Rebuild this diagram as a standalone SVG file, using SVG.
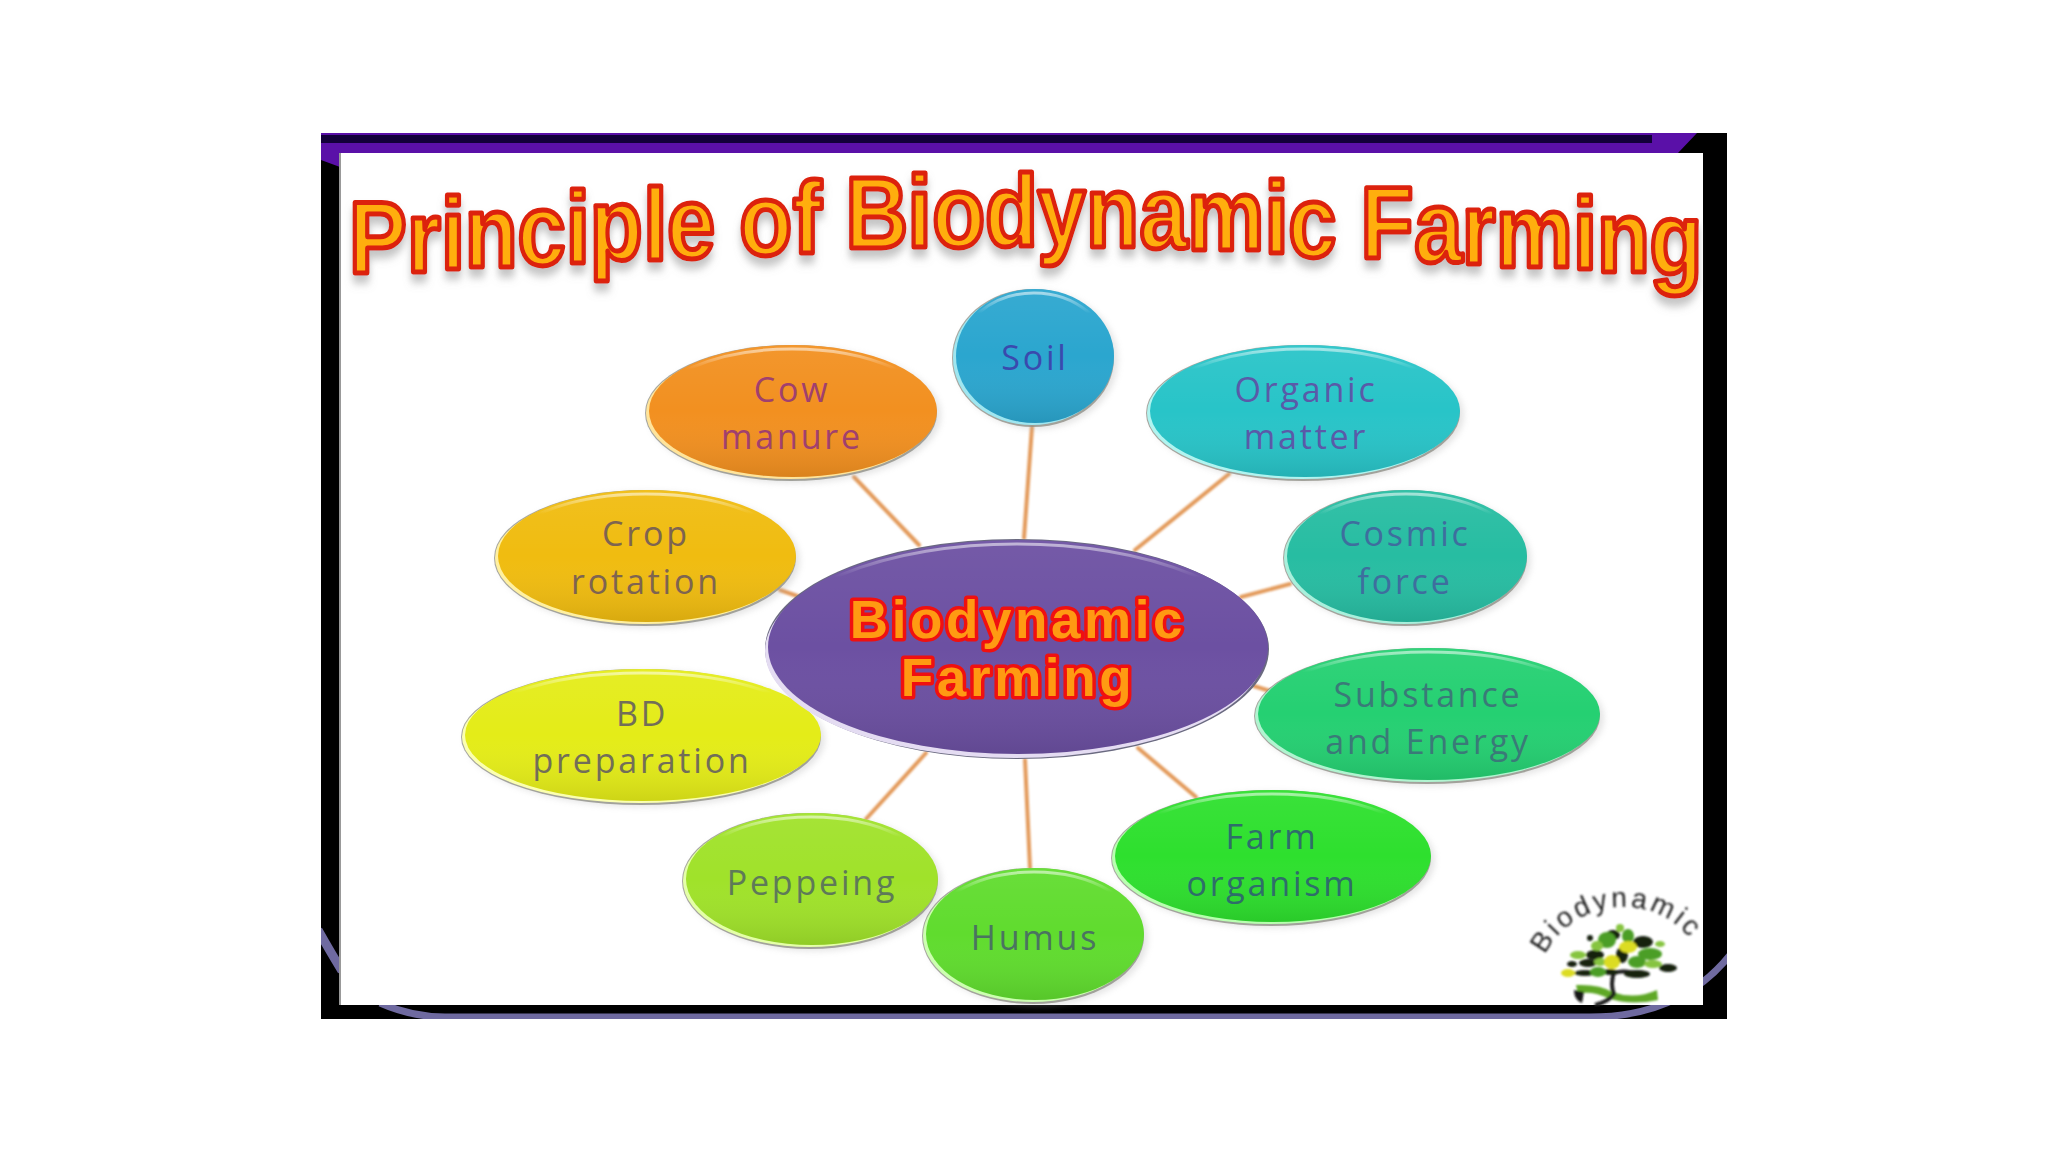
<svg xmlns="http://www.w3.org/2000/svg" xmlns:xlink="http://www.w3.org/1999/xlink" width="2048" height="1152" viewBox="0 0 2048 1152">
<style>
.label{font-family:"Open Sans","Liberation Sans",sans-serif;font-size:34px;text-anchor:middle;letter-spacing:2.8px;fill:#6B4AA0}
.shade{fill:url(#shade)}
.rim{fill:none;stroke:url(#rimg);stroke-width:3}
.outline{fill:#8A8A80;opacity:.75}
.shadow{fill:#A8A8A8;opacity:.3;filter:url(#soft)}
.conn line{stroke:#E39A5A;stroke-width:4;stroke-linecap:round}
.title{font-family:"Liberation Sans",Arial,sans-serif;font-weight:700;font-size:102px;fill:#FFAE0C;stroke:#DC2010;stroke-width:5;stroke-linejoin:round;filter:url(#drop)}
.centre{font-family:"Liberation Sans",Arial,sans-serif;font-weight:700;font-size:53px;text-anchor:middle;letter-spacing:3.6px;fill:#FF9A12;stroke:#F01010;stroke-width:7;stroke-linejoin:round;paint-order:stroke}
.logo{font-family:"Liberation Sans",Arial,sans-serif;font-size:28px;fill:#222;letter-spacing:3px}
.dk{fill:#14200E}.gr{fill:#4C9E26}.lg{fill:#86C440}.ye{fill:#DCDC22}
</style>
<defs>
<linearGradient id="shade" x1="0" y1="0" x2="0" y2="1"><stop offset="0" stop-color="#fff" stop-opacity=".06"/><stop offset=".5" stop-color="#fff" stop-opacity="0"/><stop offset="1" stop-color="#000" stop-opacity=".1"/></linearGradient>
<linearGradient id="rimg" x1="0" y1="0" x2="0" y2="1"><stop offset="0" stop-color="#fff" stop-opacity=".55"/><stop offset=".16" stop-color="#fff" stop-opacity="0"/><stop offset="1" stop-color="#fff" stop-opacity="0"/></linearGradient>
<filter id="soft" x="-10%" y="-10%" width="120%" height="120%"><feGaussianBlur stdDeviation="3"/></filter>
<filter id="drop" x="-5%" y="-20%" width="110%" height="150%"><feGaussianBlur stdDeviation=".7" in="SourceGraphic" result="b"/><feDropShadow in="b" dx="0" dy="8" stdDeviation="4.5" flood-color="#888" flood-opacity=".5"/></filter>
<filter id="b1" x="-5%" y="-5%" width="110%" height="110%"><feGaussianBlur stdDeviation=".8"/></filter>
<filter id="b2" x="-20%" y="-20%" width="140%" height="140%"><feGaussianBlur stdDeviation="1.1"/></filter>
<clipPath id="fc"><rect x="321" y="133" width="1406" height="886"/></clipPath>
<path id="logoArc" d="M1545 955 C1575 893 1670 888 1702 958"/>
</defs>
<rect width="2048" height="1152" fill="#fff"/>
<g id="frame">
<rect x="321" y="133" width="1406" height="886" fill="#000"/>
<path d="M321 133H1697L1678 153H340V167L321 160Z" fill="#5A10A8"/>
<rect x="321" y="135" width="1331" height="8" fill="#12003A"/>
<g clip-path="url(#fc)" fill="none" stroke="#6F6AA0">
<path d="M318 930 Q331 953 342 971" stroke-width="9"/>
<path d="M380 1003 Q412 1017 445 1017 H1590 Q1680 1017 1730 955" stroke-width="7"/>
</g>
<rect x="340" y="153" width="1363" height="852" fill="#fff"/>
<rect x="339" y="153" width="2" height="852" fill="#999"/>
</g>
<text id="title" class="title" transform="translate(4 0) scale(.85 1)" x="406 474 514 542 604 661 689 752 780 837 865 928 961 990 1063 1092 1154 1216 1273 1336 1392 1483 1511 1568 1596 1659 1715 1755 1846 1874 1936" y="273 272 269 267 265 263 260 260 258 258 255 253 250 248 247 247 246 245 247 248 250 253 257 258 258 262 264 267 269 272 275">Principle of Biodynamic Farming</text>
<g id="connectors" class="conn" filter="url(#b1)">
<line x1="854" y1="477" x2="919" y2="545"/>
<line x1="1032" y1="427" x2="1024" y2="538"/>
<line x1="1229" y1="474" x2="1135" y2="550"/>
<line x1="780" y1="590" x2="800" y2="597"/>
<line x1="1290" y1="584" x2="1241" y2="597"/>
<line x1="1254" y1="686" x2="1273" y2="692"/>
<line x1="1138" y1="748" x2="1196" y2="797"/>
<line x1="1025" y1="760" x2="1030" y2="868"/>
<line x1="926" y1="753" x2="866" y2="819"/>
</g>
<g id="soil"><ellipse class="shadow" cx="1037" cy="360" rx="81" ry="69"/><ellipse class="outline" cx="1033" cy="358" rx="81" ry="69"/><ellipse cx="1032" cy="358" rx="79" ry="67" fill="#9FE6F0"/><ellipse cx="1035" cy="356" rx="79" ry="67" fill="#2BA6CF"/><ellipse class="shade" cx="1035" cy="356" rx="79" ry="67"/><ellipse class="rim" cx="1034" cy="357" rx="76" ry="64"/><text class="label" x="1035" y="370" style="fill:#3A4AAE">Soil</text></g>
<g id="cow-manure"><ellipse class="shadow" cx="795" cy="415" rx="146" ry="68"/><ellipse class="outline" cx="791" cy="413" rx="146" ry="68"/><ellipse cx="790" cy="413" rx="144" ry="66" fill="#FFE49A"/><ellipse cx="793" cy="411" rx="144" ry="66" fill="#F29020"/><ellipse class="shade" cx="793" cy="411" rx="144" ry="66"/><ellipse class="rim" cx="792" cy="412" rx="141" ry="63"/><text class="label" x="792" y="402" style="fill:#A0406E">Cow</text><text class="label" x="792" y="449" style="fill:#A0406E">manure</text></g>
<g id="organic-matter"><ellipse class="shadow" cx="1307" cy="415" rx="157" ry="68"/><ellipse class="outline" cx="1303" cy="413" rx="157" ry="68"/><ellipse cx="1302" cy="413" rx="155" ry="66" fill="#B0F4F0"/><ellipse cx="1305" cy="411" rx="155" ry="66" fill="#28C4C8"/><ellipse class="shade" cx="1305" cy="411" rx="155" ry="66"/><ellipse class="rim" cx="1304" cy="412" rx="152" ry="63"/><text class="label" x="1306" y="402" style="fill:#5A5AA8">Organic</text><text class="label" x="1306" y="449" style="fill:#5A5AA8">matter</text></g>
<g id="crop-rotation"><ellipse class="shadow" cx="649" cy="560" rx="151" ry="68"/><ellipse class="outline" cx="645" cy="558" rx="151" ry="68"/><ellipse cx="644" cy="558" rx="149" ry="66" fill="#FFF0A0"/><ellipse cx="647" cy="556" rx="149" ry="66" fill="#F0BC10"/><ellipse class="shade" cx="647" cy="556" rx="149" ry="66"/><ellipse class="rim" cx="646" cy="557" rx="146" ry="63"/><text class="label" x="646" y="546" style="fill:#7E6450">Crop</text><text class="label" x="646" y="594" style="fill:#7E6450">rotation</text></g>
<g id="cosmic-force"><ellipse class="shadow" cx="1409" cy="560" rx="122" ry="68"/><ellipse class="outline" cx="1405" cy="558" rx="122" ry="68"/><ellipse cx="1404" cy="558" rx="120" ry="66" fill="#A8F0DC"/><ellipse cx="1407" cy="556" rx="120" ry="66" fill="#27BDA2"/><ellipse class="shade" cx="1407" cy="556" rx="120" ry="66"/><ellipse class="rim" cx="1406" cy="557" rx="117" ry="63"/><text class="label" x="1405" y="546" style="fill:#3E6E9E">Cosmic</text><text class="label" x="1405" y="594" style="fill:#3E6E9E">force</text></g>
<g id="bd-preparation"><ellipse class="shadow" cx="645" cy="739" rx="180" ry="68"/><ellipse class="outline" cx="641" cy="737" rx="180" ry="68"/><ellipse cx="640" cy="737" rx="178" ry="66" fill="#FBFFB0"/><ellipse cx="643" cy="735" rx="178" ry="66" fill="#E4EC18"/><ellipse class="shade" cx="643" cy="735" rx="178" ry="66"/><ellipse class="rim" cx="642" cy="736" rx="175" ry="63"/><text class="label" x="642" y="726" style="fill:#726E58">BD</text><text class="label" x="642" y="773" style="fill:#726E58">preparation</text></g>
<g id="substance-energy"><ellipse class="shadow" cx="1431" cy="718" rx="173" ry="68"/><ellipse class="outline" cx="1427" cy="716" rx="173" ry="68"/><ellipse cx="1426" cy="716" rx="171" ry="66" fill="#B0F4D0"/><ellipse cx="1429" cy="714" rx="171" ry="66" fill="#25D072"/><ellipse class="shade" cx="1429" cy="714" rx="171" ry="66"/><ellipse class="rim" cx="1428" cy="715" rx="168" ry="63"/><text class="label" x="1428" y="707" style="fill:#3A7A78">Substance</text><text class="label" x="1428" y="754" style="fill:#3A7A78">and Energy</text></g>
<g id="farm-organism"><ellipse class="shadow" cx="1275" cy="860" rx="160" ry="68"/><ellipse class="outline" cx="1271" cy="858" rx="160" ry="68"/><ellipse cx="1270" cy="858" rx="158" ry="66" fill="#B8FFB0"/><ellipse cx="1273" cy="856" rx="158" ry="66" fill="#2EE02E"/><ellipse class="shade" cx="1273" cy="856" rx="158" ry="66"/><ellipse class="rim" cx="1272" cy="857" rx="155" ry="63"/><text class="label" x="1272" y="849" style="fill:#2E6E6A">Farm</text><text class="label" x="1272" y="896" style="fill:#2E6E6A">organism</text></g>
<g id="peppeing"><ellipse class="shadow" cx="814" cy="883" rx="128" ry="68"/><ellipse class="outline" cx="810" cy="881" rx="128" ry="68"/><ellipse cx="809" cy="881" rx="126" ry="66" fill="#E4FFA8"/><ellipse cx="812" cy="879" rx="126" ry="66" fill="#A0E22A"/><ellipse class="shade" cx="812" cy="879" rx="126" ry="66"/><ellipse class="rim" cx="811" cy="880" rx="123" ry="63"/><text class="label" x="812" y="895" style="fill:#5E7A58">Peppeing</text></g>
<g id="humus"><ellipse class="shadow" cx="1037" cy="938" rx="111" ry="68"/><ellipse class="outline" cx="1033" cy="936" rx="111" ry="68"/><ellipse cx="1032" cy="936" rx="109" ry="66" fill="#CCFFB0"/><ellipse cx="1035" cy="934" rx="109" ry="66" fill="#60DC2E"/><ellipse class="shade" cx="1035" cy="934" rx="109" ry="66"/><ellipse class="rim" cx="1034" cy="935" rx="106" ry="63"/><text class="label" x="1035" y="950" style="fill:#4A7460">Humus</text></g>
<g id="biodynamic-farming"><ellipse cx="1017" cy="649" rx="252" ry="110" fill="#6A6A80"/><ellipse cx="1015" cy="651" rx="250" ry="107" fill="#E4DCF2"/><ellipse cx="1018" cy="647" rx="250" ry="107" fill="#6C50A2"/><ellipse class="shade" cx="1018" cy="647" rx="250" ry="107"/><ellipse class="rim" cx="1017" cy="648" rx="247" ry="104"/><text class="centre" x="1018" y="638">Biodynamic</text><text class="centre" x="1018" y="696">Farming</text></g>
<g id="logo">
<g filter="url(#b2)">
<path d="M1576 985 Q1600 984 1612 992 Q1635 1000 1657 990 L1658 1000 Q1630 1006 1608 998 Q1590 990 1578 994Z" fill="#5EA828"/>
<path d="M1574 990 Q1574 1000 1582 1003 L1584 992Z" fill="#141414"/>
<path d="M1614 972 Q1610 985 1614 994 Q1608 1002 1595 1005 M1614 973 Q1625 969 1640 975" fill="none" stroke="#1C1C1C" stroke-width="4"/>
<g class="dk"><ellipse cx="1613" cy="935" rx="7" ry="5"/><ellipse cx="1643" cy="942" rx="10" ry="6"/><ellipse cx="1595" cy="955" rx="9" ry="5"/><ellipse cx="1588" cy="963" rx="9" ry="4"/><ellipse cx="1585" cy="973" rx="11" ry="3"/><ellipse cx="1637" cy="974" rx="13" ry="4"/><ellipse cx="1668" cy="968" rx="9" ry="4"/><ellipse cx="1622" cy="955" rx="6" ry="8"/><ellipse cx="1572" cy="964" rx="5" ry="3"/><ellipse cx="1590" cy="938" rx="3" ry="3"/><ellipse cx="1610" cy="972" rx="8" ry="3"/></g>
<g class="gr"><ellipse cx="1607" cy="940" rx="9" ry="8"/><ellipse cx="1628" cy="936" rx="6" ry="7"/><ellipse cx="1650" cy="954" rx="12" ry="6"/><ellipse cx="1637" cy="962" rx="9" ry="6"/><ellipse cx="1598" cy="972" rx="8" ry="5"/></g>
<g class="lg"><ellipse cx="1597" cy="946" rx="6" ry="5"/><ellipse cx="1578" cy="955" rx="8" ry="4"/><ellipse cx="1653" cy="964" rx="9" ry="4"/><ellipse cx="1620" cy="928" rx="4" ry="4"/><ellipse cx="1600" cy="962" rx="6" ry="4"/><ellipse cx="1660" cy="944" rx="5" ry="3"/></g>
<g class="ye"><ellipse cx="1628" cy="947" rx="9" ry="6"/><ellipse cx="1612" cy="962" rx="8" ry="7"/><ellipse cx="1568" cy="973" rx="7" ry="4"/></g>
<text class="logo"><textPath xlink:href="#logoArc" href="#logoArc">Biodynamic</textPath></text>
</g>
</g>
</svg>
